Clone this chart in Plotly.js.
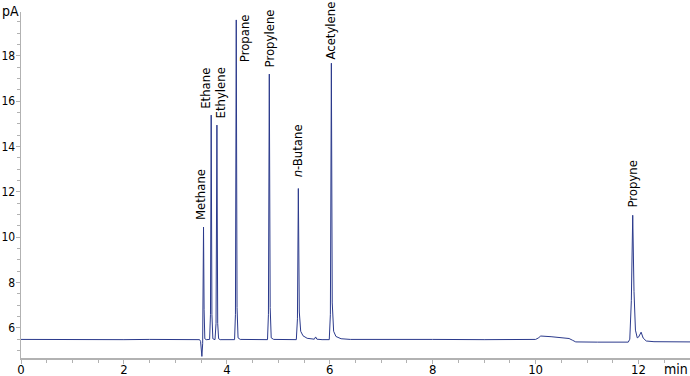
<!DOCTYPE html>
<html>
<head>
<meta charset="utf-8">
<script src="https://cdn.plot.ly/plotly-3.0.1.min.js"></script>
<style>
  html, body { margin: 0; padding: 0; background: #fff; }
  #chart { width: 690px; height: 376px; }
</style>
</head>
<body>
<div id="chart"></div>
<script>
// Chromatogram trace (time in min, signal in pA)
var retentionTime = [
  0, 0.5, 1.0, 1.5, 2.0, 2.5, 3.0, 3.47,
  3.49, 3.515, 3.53,
  3.537, 3.547, 3.558, 3.572, 3.60,
  3.665, 3.682, 3.696, 3.71, 3.728, 3.77,
  3.79, 3.807, 3.822, 3.84, 3.87,
  4.15, 4.167, 4.183, 4.198, 4.218, 4.26,
  4.79, 4.808, 4.825, 4.842, 4.862, 4.91,
  5.35, 5.372, 5.389, 5.408, 5.435, 5.48, 5.56, 5.66, 5.70, 5.725, 5.75, 5.85,
  5.99, 6.012, 6.031, 6.048, 6.075, 6.12, 6.22, 6.4,
  7.0, 8.0, 9.0, 10.0,
  10.05, 10.1, 10.3, 10.5, 10.65, 10.72, 10.78, 11.2, 11.8,
  11.83, 11.86, 11.887, 11.912, 11.94, 11.975, 12.0, 12.05, 12.09, 12.15, 12.3, 12.6, 13.0
];
var signal = [
  5.49, 5.48, 5.49, 5.48, 5.48, 5.49, 5.48, 5.48,
  5.40, 4.74, 5.30,
  6.6, 10.45, 6.8, 5.52, 5.48,
  5.49, 6.6, 15.39, 6.6, 5.52, 5.48,
  6.2, 14.95, 6.2, 5.52, 5.48,
  5.48, 6.6, 19.59, 6.9, 5.56, 5.49,
  5.48, 6.6, 17.20, 6.9, 5.56, 5.49,
  5.48, 6.4, 12.15, 6.7, 5.85, 5.65, 5.54, 5.50, 5.50, 5.60, 5.50, 5.48,
  5.48, 6.6, 17.68, 7.1, 5.85, 5.62, 5.52, 5.49,
  5.48, 5.49, 5.48, 5.49,
  5.55, 5.64, 5.61, 5.57, 5.53, 5.45, 5.38, 5.37, 5.37,
  5.50, 7.2, 10.97, 7.6, 5.9, 5.56, 5.59, 5.81, 5.55, 5.42, 5.39, 5.38, 5.38
];

// Peak labels
var peakNames = ["Methane", "Ethane", "Ethylene", "Propane", "Propylene", "<i>n</i>-Butane", "Acetylene", "Propyne"];
var peakTimes = [3.547, 3.696, 3.807, 4.183, 4.825, 5.389, 6.031, 11.887];
var peakHeights = [10.45, 15.39, 14.95, 19.59, 17.20, 12.15, 17.68, 10.97];

// Axis ticks
var xTickVals = [0, 2, 4, 6, 8, 10, 12];
var xTickText = ["0", "2", "4", "6", "8", "10", "12"];
var yTickVals = [6, 8, 10, 12, 14, 16, 18];
var yTickText = ["6", "8", "10", "12", "14", "16", "18"];

var FONT = "'Liberation Sans Narrow', 'DejaVu Sans Condensed', 'Arial Narrow', sans-serif";
var AXIS = "#b2b2b2";

// label offsets in pixels (style, not data)
var labelShiftX = [-3, -6, 4, 9, 0, -1, -1, 0];
var labelShiftY = [5, 4, 5, -44, 5, 9, 2, 6];

var annotations = peakNames.map(function (name, i) {
  return {
    x: peakTimes[i], y: peakHeights[i], xref: "x", yref: "y",
    text: name, showarrow: false, textangle: -90,
    xanchor: "center", yanchor: "bottom",
    xshift: labelShiftX[i], yshift: labelShiftY[i],
    font: { family: FONT, size: 13, color: "#000" }
  };
});
annotations.push({
  xref: "paper", yref: "paper", x: 0, y: 1, xshift: -21, yshift: 1,
  xanchor: "left", yanchor: "middle", text: "pA", showarrow: false,
  font: { family: FONT, size: 14, color: "#000" }
});
annotations.push({
  xref: "paper", yref: "paper", x: 1, y: 0, xshift: 0, yshift: -1,
  xanchor: "right", yanchor: "top", text: "min", showarrow: false,
  font: { family: FONT, size: 14, color: "#000" }
});

var trace = {
  x: retentionTime, y: signal, type: "scatter", mode: "lines",
  line: { color: "#2b3a8c", width: 1 }, hoverinfo: "skip"
};

var layout = {
  width: 690, height: 376,
  margin: { l: 21, r: 0, t: 12, b: 18, pad: 0 },
  paper_bgcolor: "#fff", plot_bgcolor: "#fff",
  showlegend: false,
  xaxis: {
    range: [0, 13.0], showgrid: false, zeroline: false,
    showline: true, linecolor: AXIS, linewidth: 1.5,
    tickmode: "array", tickvals: xTickVals, ticktext: xTickText,
    ticks: "outside", ticklen: 4, tickcolor: AXIS, tickwidth: 1,
    ticklabelstandoff: -5,
    minor: { dtick: 0.5, ticks: "outside", ticklen: 3, tickcolor: AXIS, tickwidth: 1, showgrid: false },
    tickfont: { family: FONT, size: 13, color: "#000" }
  },
  yaxis: {
    range: [4.67, 19.94], showgrid: false, zeroline: false,
    showline: true, linecolor: AXIS, linewidth: 1.5,
    tickmode: "array", tickvals: yTickVals, ticktext: yTickText,
    ticks: "outside", ticklen: 4, tickcolor: AXIS, tickwidth: 1,
    ticklabelstandoff: -2,
    minor: { dtick: 0.5, ticks: "outside", ticklen: 3, tickcolor: AXIS, tickwidth: 1, showgrid: false },
    tickfont: { family: FONT, size: 12, color: "#000" }
  },
  annotations: annotations
};

Plotly.newPlot("chart", [trace], layout, { staticPlot: true, displayModeBar: false });
</script>
</body>
</html>
